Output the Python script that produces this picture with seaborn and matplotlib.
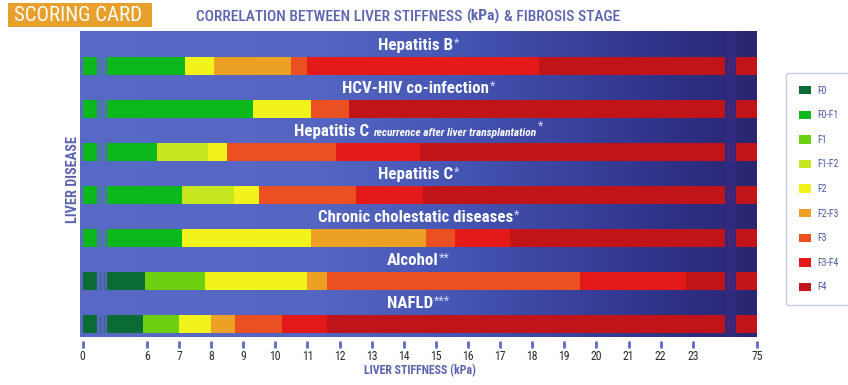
import numpy as np
import pandas as pd
import matplotlib
matplotlib.use("Agg")
import matplotlib.pyplot as plt
import matplotlib.transforms as mtransforms
from matplotlib.patches import Patch, Rectangle
from matplotlib.colors import LinearSegmentedColormap
import seaborn as sns

# rows, top to bottom
diseases = ["Hepatitis B", "HCV-HIV co-infection", "Hepatitis C recurrence",
            "Hepatitis C", "Chronic cholestatic diseases", "Alcohol", "NAFLD"]
row_titles = ["Hepatitis B", "HCV-HIV co-infection", "Hepatitis C", "Hepatitis C",
              "Chronic cholestatic diseases", "Alcohol", "NAFLD"]
row_notes = ["", "", "recurrence after liver transplantation", "", "", "", ""]
row_stars = ["*", "*", "*", "*", "*", "**", "***"]

stages = ["F0", "F0-F1", "F1", "F1-F2", "F2", "F2-F3", "F3", "F3-F4", "F4"]
stage_colors = ["#0b6b35", "#0cb81c", "#6ccf10", "#c8e61e", "#f2f21c",
                "#eca024", "#ea5020", "#e41a1a", "#c01418"]

# upper bound (kPa) of each stage segment
hepb_stages = ["F0-F1", "F2", "F2-F3", "F3", "F3-F4", "F4"]
hepb_ends = [7.2, 8.1, 10.5, 11.0, 18.2, 75]
hcvhiv_stages = ["F0-F1", "F2", "F3", "F4"]
hcvhiv_ends = [9.3, 11.1, 12.3, 75]
hcrec_stages = ["F0-F1", "F1-F2", "F2", "F3", "F3-F4", "F4"]
hcrec_ends = [6.3, 7.9, 8.5, 11.9, 14.5, 75]
hepc_stages = ["F0-F1", "F1-F2", "F2", "F3", "F3-F4", "F4"]
hepc_ends = [7.1, 8.7, 9.5, 12.5, 14.6, 75]
chol_stages = ["F0-F1", "F2", "F2-F3", "F3", "F3-F4", "F4"]
chol_ends = [7.1, 11.1, 14.7, 15.6, 17.3, 75]
alc_stages = ["F0", "F1", "F2", "F2-F3", "F3", "F3-F4", "F4"]
alc_ends = [5.8, 7.8, 11.0, 11.6, 19.5, 22.8, 75]
nafld_stages = ["F0", "F1", "F2", "F2-F3", "F3", "F3-F4", "F4"]
nafld_ends = [5.6, 7.0, 8.0, 8.75, 10.2, 11.6, 75]

xticks = [0, 6, 7, 8, 9, 10, 11, 12, 13, 14, 15, 16, 17, 18, 19, 20, 21, 22, 23, 75]

row_stages = [hepb_stages, hcvhiv_stages, hcrec_stages, hepc_stages, chol_stages, alc_stages, nafld_stages]
row_ends = [hepb_ends, hcvhiv_ends, hcrec_ends, hepc_ends, chol_ends, alc_ends, nafld_ends]

records = []
for d, st, en in zip(diseases, row_stages, row_ends):
    for s, e in zip(st, en):
        records.append({"disease": d, "stage": s, "end": e})
df = pd.DataFrame(records)
color_of = dict(zip(stages, stage_colors))

# broken axis: 0-6 and 23-75 are squeezed
knots_kpa = [-6, 0, 6, 23, 75, 127]
knots_pos = [-2, 0, 2, 19, 21, 23]
def fwd(x):
    return np.interp(x, knots_kpa, knots_pos)
def inv(x):
    return np.interp(x, knots_pos, knots_kpa)

sns.set_style("white")
plt.rcParams["font.family"] = ["Roboto Condensed", "Roboto", "DejaVu Sans"]
plt.rcParams["font.stretch"] = "condensed"

BLUE_TXT = "#5a64b0"
BAR_H = 0.42

fig = plt.figure(figsize=(8.48, 3.85), dpi=100)
ax = fig.add_axes([80 / 848, 48 / 385, 677 / 848, 306 / 385])

# gradient background
grad_cmap = LinearSegmentedColormap.from_list(
    "bg", [(0, "#5869c6"), (0.35, "#5566c2"), (0.55, "#4656b4"),
           (0.75, "#373f9a"), (0.9, "#2e2e82"), (1.0, "#2a2670")])
ax.imshow(np.linspace(0, 1, 256)[None, :], cmap=grad_cmap, extent=(0, 1, 0, 1),
          transform=ax.transAxes, aspect="auto", zorder=0)

# stacked bars by overlaying from the longest stage down
for s in reversed(stages):
    sub = df[df["stage"] == s]
    if sub.empty:
        continue
    sns.barplot(data=sub, x="end", y="disease", order=diseases, orient="h",
                color=color_of[s], saturation=1, width=BAR_H, errorbar=None,
                linewidth=0, ax=ax, zorder=2)

ax.set_xscale("function", functions=(fwd, inv))
ax.set_xlim(-0.25, 75)
ax.set_ylim(6.30, -0.814)

# axis break marks
for i, st in enumerate(row_stages):
    ax.add_patch(Rectangle((1.3, i - BAR_H / 2), 1.0, BAR_H, color="#5868c6", lw=0, zorder=3))
    ax.vlines([1.6, 1.95], i - BAR_H / 2, i + BAR_H / 2, color=color_of[st[0]], lw=1, alpha=0.45, zorder=4)
    ax.vlines([51.5, 55.0], i - BAR_H / 2, i + BAR_H / 2, color=color_of[st[-1]], lw=1, alpha=0.35, zorder=4)
ax.axvspan(48.8, 57.7, color="#2f2a80", lw=0, zorder=3)

ax.set_xticks(xticks)
ax.set_xticklabels([str(t) for t in xticks], fontweight="bold")
ax.set_yticks([])
ax.set_xlabel("")
ax.set_ylabel("")
for sp in ax.spines.values():
    sp.set_visible(False)
ax.spines["bottom"].set_position(("outward", 3))
ax.tick_params(axis="x", length=5, width=2, color="#5a6ac8", pad=1.5,
               labelsize=8.5, labelcolor="#2a2a2a", bottom=True)

renderer = fig.canvas.get_renderer()
ident = mtransforms.IdentityTransform()

def width_of(t):
    return t.get_window_extent(renderer).width

def fit(t, target):
    # shrink a text to the width it takes in the card
    w = width_of(t)
    if w > target:
        t.set_fontsize(t.get_fontsize() * target / w)

def write_parts(parts, cx, base_y, target=None):
    # parts: (text, style, dy, gap before) laid side by side, centred on cx
    objs = [fig.text(0, 0, p[0], transform=ident, ha="left", va="baseline", **p[1]) for p in parts]
    if target is not None:
        w = sum(width_of(o) for o in objs)
        if w > target:
            for o in objs:
                o.set_fontsize(o.get_fontsize() * target / w)
    widths = [width_of(o) for o in objs]
    gaps = [p[3] for p in parts]
    gaps[0] = 0
    x = cx - (sum(widths) + sum(gaps)) / 2
    for o, w, g, p in zip(objs, widths, gaps, parts):
        x += g
        o.set_position((x, base_y + p[2]))
        x += w
    return objs

# common size for row titles, set by the widest one
probe = fig.text(0, 0, row_titles[4], fontsize=13, fontweight="bold", transform=ident)
fit(probe, 194)
title_size = probe.get_fontsize()
probe.remove()
probe = fig.text(0, 0, row_notes[2], fontsize=9, fontweight="bold", style="italic", transform=ident)
fit(probe, 164)
note_size = probe.get_fontsize()
probe.remove()

# row labels
cx = ax.transAxes.transform((0.5, 0))[0]
for i in range(len(diseases)):
    base = ax.transData.transform((1, i))[1] + 16
    parts = [(row_titles[i], dict(fontsize=title_size, fontweight="bold", color="white"), 0, 0)]
    if row_notes[i]:
        parts.append((row_notes[i], dict(fontsize=note_size, fontweight="bold", style="italic", color="white"), 0, 4))
        parts.append((row_stars[i], dict(fontsize=9, color="#d4d6f2"), 6, 1))
    else:
        parts.append((row_stars[i], dict(fontsize=9, color="#d4d6f2"), 3, 0.5))
    write_parts(parts, cx, base)

# header
fig.add_artist(Rectangle((8 / 848, 1 - 27 / 385), 144 / 848, 24 / 385,
                         transform=fig.transFigure, color="#e8a02c", lw=0))
card = fig.text(78 / 848, 1 - 15.5 / 385, "SCORING CARD", color="white", fontsize=15,
                ha="center", va="center")
fit(card, 130)
title_kw = dict(fontsize=12, color=BLUE_TXT, fontweight="medium")
write_parts([("CORRELATION BETWEEN LIVER STIFFNESS", title_kw, 0, 0),
             ("(kPa)", dict(title_kw, fontweight="bold"), 0, 4),
             ("& FIBROSIS STAGE", title_kw, 0, 4)], 408, 385 - 21, target=417)

xl = fig.text(420 / 848, 1 - 371 / 385, "LIVER STIFFNESS (kPa)", color=BLUE_TXT,
              fontsize=10, fontweight="bold", ha="center", va="center")
fit(xl, 112)
yl = fig.text(73 / 848, 1 - 180 / 385, "LIVER DISEASE", color=BLUE_TXT,
              fontsize=xl.get_fontsize() * 1.2, fontweight="bold", rotation=90,
              ha="center", va="center")

handles = [Patch(facecolor=c, edgecolor="none", label=s) for s, c in zip(stages, stage_colors)]
fig.legend(handles=handles, loc="upper left", bbox_to_anchor=(786 / 848, 1 - 73 / 385),
           fontsize=7, labelspacing=1.5, handlelength=1.3, handleheight=0.95,
           handletextpad=0.65, borderpad=1.3, borderaxespad=0, frameon=True,
           edgecolor="#c8cde0", facecolor="white", framealpha=1, labelcolor="#4a58a8")

fig.savefig("out.png", dpi=100)
